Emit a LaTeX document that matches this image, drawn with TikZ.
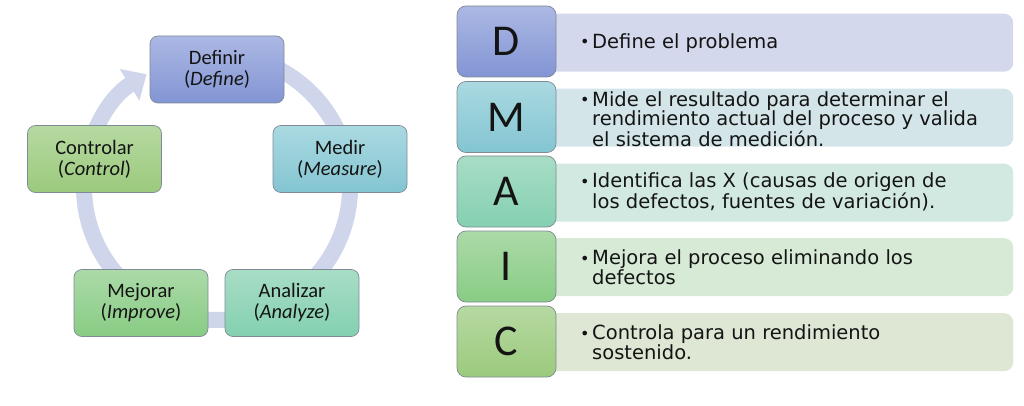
\documentclass[tikz,border=0pt]{standalone}
\usepackage{fontspec}
\setmainfont{Carlito}
\newfontfamily\vfont{DejaVu Sans}
\usetikzlibrary{arrows.meta}
\definecolor{defT}{RGB}{172,184,228}
\definecolor{defB}{RGB}{130,149,212}
\definecolor{medT}{RGB}{170,217,225}
\definecolor{medB}{RGB}{131,197,210}
\definecolor{anaT}{RGB}{168,221,198}
\definecolor{anaB}{RGB}{132,208,177}
\definecolor{mejT}{RGB}{171,218,168}
\definecolor{mejB}{RGB}{136,204,132}
\definecolor{conT}{RGB}{182,217,162}
\definecolor{conB}{RGB}{155,202,124}
\definecolor{tD}{RGB}{212,216,236}
\definecolor{tM}{RGB}{211,229,233}
\definecolor{tA}{RGB}{210,233,225}
\definecolor{tI}{RGB}{214,234,214}
\definecolor{tC}{RGB}{221,231,212}
\definecolor{ring}{RGB}{207,213,234}
\definecolor{edge}{RGB}{128,138,150}
\definecolor{ink}{RGB}{20,20,20}
\tikzset{
  cyc/.style={draw=edge, line width=0.7pt, rounded corners=8pt, minimum width=134pt, minimum height=67pt,
    align=center, text=ink, font=\fontsize{20.5}{21}\selectfont, inner sep=0pt},
  letterbox/.style={draw=edge, line width=0.7pt, rounded corners=9pt, minimum width=99pt, minimum height=71pt,
    text=ink, font=\fontsize{44}{44}\selectfont, inner sep=0pt},
  textbox/.style={rounded corners=9pt, inner sep=0pt, anchor=north west, minimum width=473pt, minimum height=58pt},
  desc/.style={anchor=west, text=ink, font=\vfont\fontsize{19.5}{19.5}\selectfont, inner sep=0pt, align=left},
}
\newcommand{\bul}{\makebox[12pt][l]{\raisebox{0.5pt}{\fontsize{16}{16}\selectfont\textbullet}}}
\begin{document}
\begin{tikzpicture}[x=1pt,y=-1pt]
\useasboundingbox (0,0) rectangle (1024,406);
% ring
\coordinate (c) at (217,187);
\draw[ring, line width=16pt, -{Triangle[length=20pt,width=36pt]}] (c) ++(-95:133) arc[start angle=-95, end angle=238, radius=133];
% cycle nodes
\node[cyc, top color=defT, bottom color=defB] (def) at (217,69.5) {Definir\\(\textit{Define})};
\node[cyc, top color=medT, bottom color=medB] (med) at (340,159) {Medir\\(\textit{Measure})};
\node[cyc, top color=anaT, bottom color=anaB] (ana) at (292,303) {Analizar\\(\textit{Analyze})};
\node[cyc, top color=mejT, bottom color=mejB] (mej) at (141,303) {Mejorar\\(\textit{Improve})};
\node[cyc, top color=conT, bottom color=conB] (con) at (94.5,159) {Controlar\\(\textit{Control})};
% right side text boxes
\node[textbox, fill=tD] (tbD) at (540,13.5) {};
\node[textbox, fill=tM] (tbM) at (540,88.5) {};
\node[textbox, fill=tA] (tbA) at (540,163.5) {};
\node[textbox, fill=tI] (tbI) at (540,238) {};
\node[textbox, fill=tC] (tbC) at (540,313) {};
% letter boxes
\node[letterbox, top color=defT, bottom color=defB] (lD) at (506.5,41.5) {D};
\node[letterbox, top color=medT, bottom color=medB] (lM) at (506.5,117) {M};
\node[letterbox, top color=anaT, bottom color=anaB] (lA) at (506.5,191.5) {A};
\node[letterbox, top color=mejT, bottom color=mejB] (lI) at (506.5,266.5) {I};
\node[letterbox, top color=conT, bottom color=conB] (lC) at (506.5,341.5) {C};
% descriptions
\node[desc] (dD) at (580,43) {\bul Define el problema};
\node[desc] (dM) at (580,119) {\bul Mide el resultado para determinar el\\\hspace*{12pt}rendimiento actual del proceso y valida\\\hspace*{12pt}el sistema de medición.};
\node[desc] (dA) at (580,192) {\bul Identifica las X (causas de origen de\\\hspace*{12pt}los defectos, fuentes de variación).};
\node[desc] (dI) at (580,267) {\bul Mejora el proceso eliminando los\\\hspace*{12pt}defectos};
\node[desc] (dC) at (580,342) {\bul Controla para un rendimiento\\\hspace*{12pt}sostenido.};
\end{tikzpicture}
\end{document}
